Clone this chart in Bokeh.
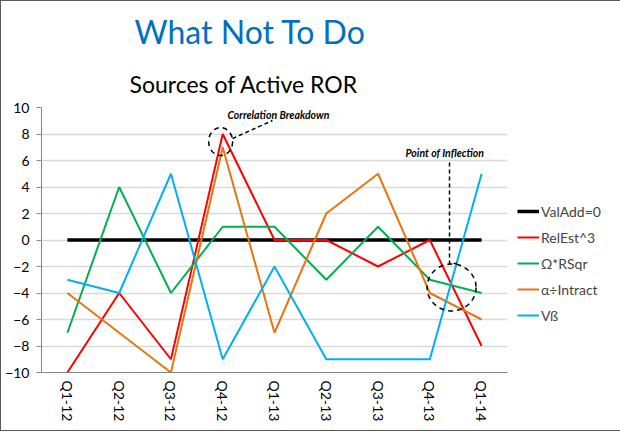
from bokeh.plotting import figure
from bokeh.models import Range1d, FixedTicker, Legend, LegendItem, Title
from bokeh.core.properties import value
from bokeh.embed import file_html
from bokeh.resources import INLINE

categories = ["Q1-12", "Q2-12", "Q3-12", "Q4-12", "Q1-13", "Q2-13", "Q3-13", "Q4-13", "Q1-14"]
valadd = [0, 0, 0, 0, 0, 0, 0, 0, 0]
relest = [-10, -4, -9, 8, 0, 0, -2, 0, -8]
omega = [-7, 4, -4, 1, 1, -3, 1, -3, -4]
alpha = [-4, -7, -10, 7, -7, 2, 5, -4, -6]
vbeta = [-3, -4, 5, -9, -2, -9, -9, -9, 5]
yticks = [-10, -8, -6, -4, -2, 0, 2, 4, 6, 8, 10]

series = [
    ("ValAdd=0", valadd, "black", 3.5),
    ("RelEst^3", relest, "#FF0000", 2),
    ("Ω*RSqr", omega, "#00B050", 2),
    ("α÷Intract", alpha, "#E8750F", 2),
    ("Vß", vbeta, "#00B0F0", 2),
]

FONT = "Lato"
xs = list(range(len(categories)))

p = figure(frame_width=466, frame_height=265, output_backend="svg", toolbar_location=None,
           x_range=Range1d(-0.5, len(categories) - 0.5), y_range=Range1d(-10, 10),
           min_border_left=40, min_border_right=111, min_border_top=106, min_border_bottom=58)
p.styles = {"border": "1.5px solid #595959"}
p.outline_line_color = None
p.xgrid.grid_line_color = None
p.ygrid.ticker = FixedTicker(ticks=yticks)
p.ygrid.grid_line_color = "#D9D9D9"
p.ygrid.grid_line_width = 1.5

p.yaxis.ticker = FixedTicker(ticks=yticks)
p.yaxis.axis_line_color = "#868686"
p.yaxis.major_tick_line_color = "#868686"
p.yaxis.major_tick_out = 5
p.yaxis.major_tick_in = 0
p.yaxis.minor_tick_line_color = None
p.yaxis.major_label_standoff = 7
p.yaxis.major_label_text_font = FONT
p.yaxis.major_label_text_font_size = "14px"
p.yaxis.major_label_text_color = "black"

p.xaxis.ticker = FixedTicker(ticks=xs)
p.xaxis.major_label_overrides = {i: c for i, c in zip(xs, categories)}
p.xaxis.axis_line_color = "#868686"
p.xaxis.major_tick_line_color = None
p.xaxis.minor_tick_line_color = None
p.xaxis.major_tick_out = 0
p.xaxis.major_label_standoff = 8
p.xaxis.major_label_orientation = "vertical"
p.xaxis.major_label_text_font = FONT
p.xaxis.major_label_text_font_size = "14px"
p.xaxis.major_label_text_color = "black"

items = []
for name, vals, color, w in series:
    r = p.line(xs, vals, line_color=color, line_width=w)
    items.append(LegendItem(label=name, renderers=[r]))

legend = Legend(items=items, location=(10, 47), border_line_color=None, background_fill_alpha=0,
                padding=0, margin=0, spacing=6, glyph_width=22, glyph_height=20, label_height=20,
                label_standoff=2, label_text_font=FONT, label_text_font_size="14px")
p.add_layout(legend, "right")

# annotations
circ_x = [2.96, 7.42]
circ_y = [7.43, -3.58]
circ_w = [24, 49]
circ_h = [28, 47]
p.ellipse(x=circ_x, y=circ_y, width=circ_w, height=circ_h, width_units="screen", height_units="screen",
          fill_alpha=0, line_color="black", line_width=1.5, line_dash="5 4")
p.line([3.19, 3.96], [7.66, 9.02], line_color="black", line_width=1.5, line_dash="4 3")
p.line([7.38, 7.38, 7.52], [5.85, -1.77, -1.77], line_color="black", line_width=1.5, line_dash="4 3")
p.text(x=[3.09], y=[9.47], text=["Correlation Breakdown"], text_font=value(FONT), text_font_size="10.5px",
       text_font_style="bold italic", text_baseline="middle", text_align="left", text_color="black")
p.text(x=[6.53], y=[6.53], text=["Point of Inflection"], text_font=value(FONT), text_font_size="10.5px",
       text_font_style="bold italic", text_baseline="middle", text_align="left", text_color="black")

p.add_layout(Title(text="Sources of Active ROR", text_font=FONT, text_font_size="23px",
                   text_font_style="normal", text_color="black", align="left", offset=88,
                   standoff=19), "above")
p.add_layout(Title(text="What Not To Do", text_font=FONT, text_font_size="32px",
                   text_font_style="normal", text_color="#0070C0", align="left", offset=93,
                   standoff=16), "above")

open("out.html", "w").write(file_html(p, INLINE))
